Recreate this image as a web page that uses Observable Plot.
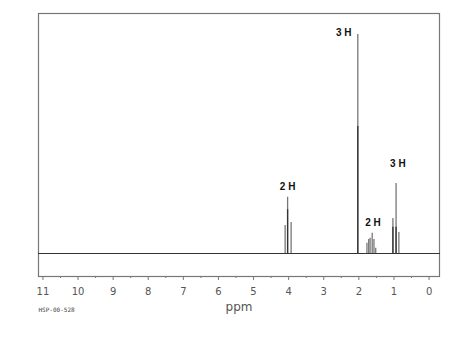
<!DOCTYPE html>
<html>
<head>
<meta charset="utf-8">
<script src="https://cdn.jsdelivr.net/npm/d3@7"></script>
<script src="https://cdn.jsdelivr.net/npm/@observablehq/plot@0.6"></script>
<style>
  body { margin: 0; background: #fff; }
  #chart svg { display: block; }
</style>
</head>
<body>
<div id="chart"></div>
<script>
// Peak positions (ppm) and intensities (relative, tallest = 100)
const peakPpm = [4.10, 4.03, 3.93, 2.03, 1.77, 1.72, 1.68, 1.62, 1.57, 1.52, 1.03, 0.94, 0.86];
const peakHeight = [12.8, 25.7, 14.2, 100, 4.7, 6.4, 7.0, 9.3, 6.4, 2.4, 16.0, 32.0, 9.6];
// darker inner parts of the drawn lines
const innerPpm = [4.03, 2.03, 0.94, 1.03];
const innerHeight = [20, 58, 12, 12];
// integration labels
const labelText = ["2 H", "3 H", "3 H", "2 H"];
const labelPpm = [4.03, 2.43, 0.89, 1.60];
const labelHeight = [30.3, 100.9, 40.8, 13.8];
// axis ticks
const majorTicks = [11, 10, 9, 8, 7, 6, 5, 4, 3, 2, 1, 0];
const minorTicks = [10.5, 9.5, 8.5, 7.5, 6.5, 5.5, 4.5, 3.5, 2.5, 1.5, 0.5];
const xLabel = "ppm";
const codeLabel = "HSP-00-528";
const baselineRange = [11.126, -0.297];

const peaks = peakPpm.map((p, i) => ({ppm: p, h: peakHeight[i]}));
const inner = innerPpm.map((p, i) => ({ppm: p, h: innerHeight[i]}));
const labels = labelText.map((t, i) => ({t, ppm: labelPpm[i], h: labelHeight[i]}));
const baseline = baselineRange.map(p => ({ppm: p, h: 0}));

const chart = Plot.plot({
  width: 475,
  height: 341,
  marginLeft: 38,
  marginRight: 36,
  marginTop: 13,
  marginBottom: 65,
  style: {fontFamily: "DejaVu Sans, sans-serif", background: "#fff"},
  x: {domain: [11.126, -0.297]},
  y: {domain: [-10.5, 109.6], axis: null},
  marks: [
    Plot.frame({stroke: "#777", strokeWidth: 1.2}),
    Plot.line(baseline, {x: "ppm", y: "h", stroke: "#333", strokeWidth: 1.2}),
    Plot.ruleX(peaks, {x: "ppm", y1: 0, y2: "h", stroke: "#777", strokeWidth: 1.3}),
    Plot.ruleX(inner, {x: "ppm", y1: 0, y2: "h", stroke: "#333", strokeWidth: 1.3}),
    Plot.text(labels, {x: "ppm", y: "h", text: "t", fontWeight: "bold", fontSize: 10,
      fontFamily: "Liberation Sans, Arial, sans-serif", fill: "#111"}),
    Plot.axisX({ticks: majorTicks, tickSize: 4, tickPadding: 7, fontSize: 10, stroke: "#777",
      color: "#555", label: null, tickFormat: d => String(d)}),
    Plot.axisX({ticks: minorTicks, tickSize: 2, stroke: "#777", tickFormat: () => "", label: null}),
    Plot.text([xLabel], {frameAnchor: "bottom", dy: 34, fontSize: 12, fill: "#555",
      fontFamily: "DejaVu Sans, sans-serif"}),
    Plot.text([codeLabel], {frameAnchor: "bottom-left", textAnchor: "start", dy: 35, fontSize: 6,
      fill: "#444", fontFamily: "DejaVu Sans Mono, monospace"})
  ]
});
document.getElementById("chart").appendChild(chart);
</script>
</body>
</html>
